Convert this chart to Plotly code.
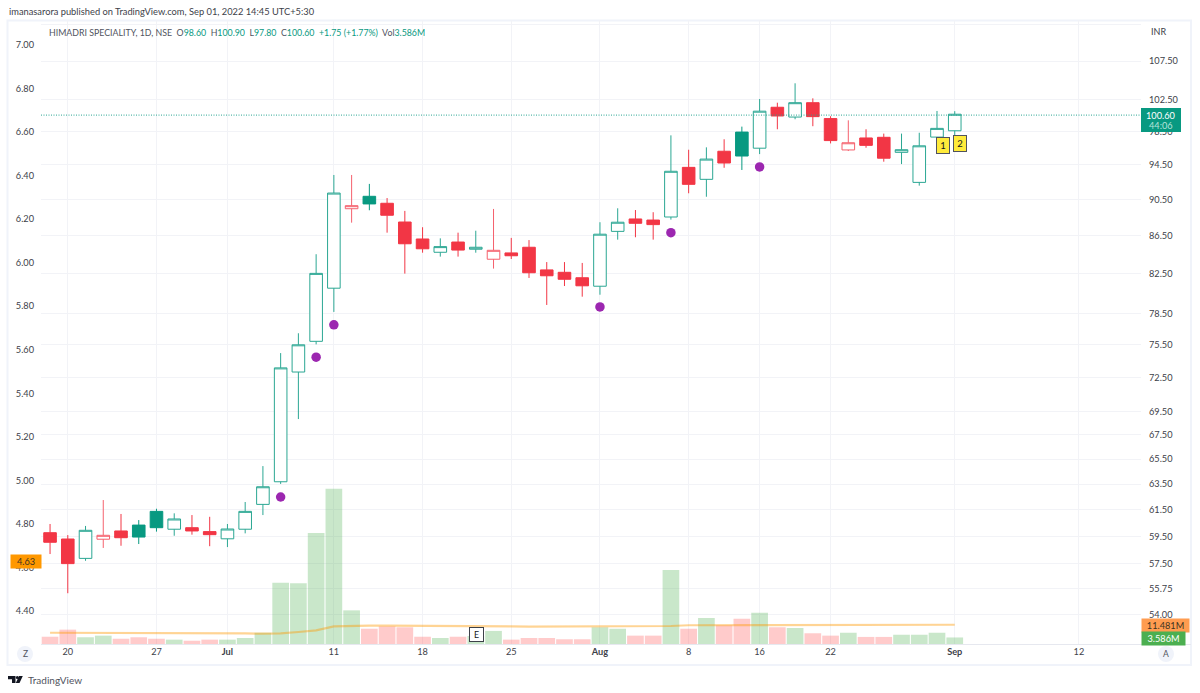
import math
import plotly.graph_objects as go

dates = ["2022-06-17","2022-06-20","2022-06-21","2022-06-22","2022-06-23","2022-06-24","2022-06-27","2022-06-28","2022-06-29","2022-06-30",
         "2022-07-01","2022-07-04","2022-07-05","2022-07-06","2022-07-07","2022-07-08","2022-07-11","2022-07-12","2022-07-13","2022-07-14",
         "2022-07-15","2022-07-18","2022-07-19","2022-07-20","2022-07-21","2022-07-22","2022-07-25","2022-07-26","2022-07-27","2022-07-28",
         "2022-07-29","2022-08-01","2022-08-02","2022-08-03","2022-08-04","2022-08-05","2022-08-08","2022-08-10","2022-08-11","2022-08-12",
         "2022-08-16","2022-08-17","2022-08-18","2022-08-19","2022-08-22","2022-08-23","2022-08-24","2022-08-25","2022-08-26","2022-08-29",
         "2022-08-30","2022-09-01"]
future_dates = ["2022-09-02","2022-09-05","2022-09-06","2022-09-07","2022-09-08","2022-09-09","2022-09-12"]

opens = [4.760,4.731,4.642,4.730,4.768,4.795,4.858,4.776,4.783,4.765,
         4.732,4.776,4.890,4.994,5.498,5.639,5.883,6.248,6.305,6.273,
         6.187,6.109,6.048,6.095,6.062,6.016,6.045,6.071,5.967,5.956,
         5.931,5.892,6.144,6.201,6.196,6.210,6.438,6.383,6.512,6.600,
         6.526,6.714,6.669,6.735,6.662,6.518,6.573,6.576,6.507,6.369,
         6.577,6.606]
highs = [4.800,4.749,4.791,4.910,4.846,4.818,4.870,4.849,4.841,4.833,
         4.800,4.901,5.066,5.585,5.676,6.039,6.403,6.403,6.362,6.297,
         6.238,6.163,6.112,6.138,6.147,6.247,6.114,6.104,6.003,6.003,
         5.999,6.186,6.250,6.242,6.232,6.585,6.519,6.530,6.567,6.625,
         6.752,6.735,6.824,6.755,6.673,6.654,6.613,6.593,6.593,6.597,
         6.697,6.696]
lows = [4.662,4.482,4.631,4.690,4.700,4.708,4.765,4.746,4.751,4.698,
        4.694,4.757,4.841,4.984,5.282,5.625,5.774,6.184,6.241,6.138,
        5.950,6.046,6.028,6.028,6.046,5.973,6.017,5.930,5.806,5.893,
        5.844,5.853,6.106,6.117,6.106,6.198,6.319,6.303,6.436,6.426,
        6.499,6.613,6.659,6.627,6.548,6.513,6.528,6.464,6.453,6.354,
        6.571,6.582]
closes = [4.716,4.618,4.771,4.748,4.737,4.740,4.783,4.823,4.768,4.751,
          4.777,4.858,4.971,5.517,5.623,5.951,6.320,6.262,6.270,6.218,
          6.087,6.064,6.074,6.058,6.071,6.057,6.032,5.954,5.940,5.924,
          5.894,6.131,6.186,6.181,6.175,6.420,6.360,6.476,6.458,6.490,
          6.696,6.674,6.735,6.671,6.561,6.551,6.539,6.480,6.519,6.537,
          6.617,6.682]
volume_m = [4.0,7.9,3.7,4.6,2.9,3.7,2.9,2.4,1.8,2.4,
            2.4,3.3,6.2,33.7,33.4,61.0,85.4,18.5,8.4,9.7,
            9.2,4.0,3.3,4.0,4.4,7.2,2.4,3.3,3.3,2.6,
            2.6,9.2,8.4,4.6,4.6,40.7,8.4,14.3,10.3,13.9,
            17.2,9.2,8.8,5.9,4.6,6.2,3.9,3.9,5.1,5.1,
            6.2,3.586]
volume_ma_m = [6.2,6.2,6.2,6.2,6.2,6.1,6.1,6.0,6.0,5.9,
               5.9,5.8,5.7,5.8,6.6,7.5,9.7,10.1,10.1,10.1,
               10.1,10.0,10.0,9.9,9.9,9.8,9.7,9.6,9.6,9.6,
               9.5,9.5,9.5,9.5,9.5,9.9,10.3,10.3,10.4,10.5,
               10.6,10.6,10.6,10.6,10.6,10.6,10.6,10.6,10.6,10.6,
               10.6,10.6]
signal_dates = ["2022-07-06","2022-07-08","2022-07-11","2022-08-01","2022-08-05","2022-08-16"]
signal_values = [4.924,5.566,5.715,5.797,6.138,6.440]

left_ticks = [7.00,6.80,6.60,6.40,6.20,6.00,5.80,5.60,5.40,5.20,5.00,4.80,4.60,4.40]
right_ticks = [112.5,107.5,102.5,98.5,94.5,90.5,86.5,82.5,78.5,75.5,72.5,69.5,67.5,65.5,63.5,61.5,59.5,57.5,55.75,54.0]
x_tick_dates = ["2022-06-20","2022-06-27","2022-07-01","2022-07-11","2022-07-18","2022-07-25","2022-08-01","2022-08-08","2022-08-16","2022-08-22","2022-09-01","2022-09-12"]
x_tick_labels = ["20","27","<b>Jul</b>","11","18","25","<b>Aug</b>","8","16","22","<b>Sep</b>","12"]

GREEN = "#089981"
RED = "#F23645"
HOLLOW_GREEN = "#2ba793"
HOLLOW_RED = "#f5616d"
FONT = "Lato, 'Open Sans', sans-serif"
TXT = "#3d4149"
TICK = 9.2
W, H = 1200, 693
L, R, T, B = 41, 1141, 20, 644


def px(x):
    return (x - L) / (R - L)


def py(y):
    return (B - y) / (B - T)


fig = go.Figure()

# invisible trace that keeps the right-hand log price scale alive
fig.add_trace(go.Scatter(x=[dates[0]] * len(right_ticks), y=right_ticks, yaxis="y", mode="lines",
                         line=dict(width=0), hoverinfo="skip", showlegend=False))

vol_colors = ["rgba(76,175,80,0.30)" if c >= o else "rgba(255,82,82,0.30)" for o, c in zip(opens, closes)]
fig.add_trace(go.Bar(x=dates, y=volume_m, yaxis="y2", marker=dict(color=vol_colors, line=dict(width=0)), showlegend=False))
fig.add_trace(go.Scatter(x=dates, y=volume_ma_m, yaxis="y2", mode="lines",
                         line=dict(color="rgba(255,152,0,0.42)", width=2.2), showlegend=False))


def is_green(i):
    return i > 0 and closes[i] >= closes[i - 1]


for want_green, col, hollow in ((True, GREEN, HOLLOW_GREEN), (False, RED, HOLLOW_RED)):
    idx = [i for i in range(len(dates)) if is_green(i) == want_green]
    fig.add_trace(go.Candlestick(
        x=[dates[i] for i in idx],
        open=[opens[i] for i in idx], high=[highs[i] for i in idx],
        low=[lows[i] for i in idx], close=[closes[i] for i in idx],
        yaxis="y3", whiskerwidth=0,
        increasing=dict(line=dict(color=hollow, width=1), fillcolor="white"),
        decreasing=dict(line=dict(color=col, width=1), fillcolor=col),
        showlegend=False))

fig.add_trace(go.Scatter(x=signal_dates, y=signal_values, yaxis="y3", mode="markers",
                         marker=dict(color="#9c27b0", size=9.5, line=dict(width=0)), showlegend=False))

shapes = [
    dict(type="rect", xref="paper", yref="paper", x0=px(7.5), x1=px(1191), y0=py(665), y1=py(20.5),
         line=dict(color="#f0f3fa", width=2), layer="below"),
    dict(type="line", xref="paper", yref="paper", x0=px(L), x1=px(1191), y0=py(B + 0.5), y1=py(B + 0.5),
         line=dict(color="#e6e8ef", width=1), layer="below"),
    dict(type="line", xref="paper", yref="y3", x0=0, x1=1, y0=closes[-1] - 0.004, y1=closes[-1] - 0.004,
         line=dict(color=HOLLOW_GREEN, width=1, dash="1px,1.5px")),
    dict(type="rect", xref="paper", yref="paper", x0=px(1141), x1=px(1181), y0=py(132), y1=py(108),
         fillcolor=GREEN, line=dict(width=0)),
    dict(type="circle", xref="paper", yref="paper", x0=px(17), x1=px(33), y0=py(662), y1=py(646),
         fillcolor="#f0f3fa", line=dict(width=0)),
    dict(type="circle", xref="paper", yref="paper", x0=px(1158), x1=px(1174), y0=py(662), y1=py(646),
         fillcolor="#f0f3fa", line=dict(width=0)),
    # TradingView mark
    dict(type="path", xref="paper", yref="paper", fillcolor="#131722", line=dict(width=0),
         path=f"M{px(8)},{py(676)} L{px(15.5)},{py(676)} L{px(15.5)},{py(683)} L{px(12)},{py(683)} L{px(12)},{py(679.3)} L{px(8)},{py(679.3)} Z"),
    dict(type="circle", xref="paper", yref="paper", x0=px(15.8), x1=px(18.8), y0=py(679), y1=py(676),
         fillcolor="#131722", line=dict(width=0)),
    dict(type="path", xref="paper", yref="paper", fillcolor="#131722", line=dict(width=0),
         path=f"M{px(19)},{py(676)} L{px(22.8)},{py(676)} L{px(19.5)},{py(683)} L{px(15.8)},{py(683)} Z"),
]


def note(text, x, y, size=TICK, color=TXT, xanchor="left", yanchor="middle", xref="paper", yref="paper", **kw):
    return dict(text=text, x=x, y=y, xref=xref, yref=yref, showarrow=False, xanchor=xanchor, yanchor=yanchor,
                font=dict(family=FONT, size=size, color=color), **kw)


def c(t):
    return f"<span style='color:{GREEN}'>{t}</span>"


header = ("HIMADRI SPECIALITY, 1D, NSE &nbsp;O" + c("98.60") + " &nbsp;H" + c("100.90") + " &nbsp;L" + c("97.80") + " &nbsp;C" + c("100.60")
          + " &nbsp;" + c("+1.75 (+1.77%)") + " &nbsp;Vol" + c("3.586M"))

annotations = [
    note("imanasarora published on TradingView.com, Sep 01, 2022 14:45 UTC+5:30", px(7), py(11), size=9.3, color="#3d4149"),
    note(header, px(47), py(32), size=8.8, color="#50535e"),
    note("INR", px(1149), py(31), size=9),
    note("TradingView", px(25.5), py(679.5), size=10, color="#50535e"),
    note("Z", px(25), py(654), size=8.5, xanchor="center", color="#50535e"),
    note("A", px(1166), py(654), size=8.5, xanchor="center", color="#50535e"),
    note("4.63", px(41.5), 4.63, size=9.2, color="#3d3320", xanchor="right", yref="y3",
         bgcolor="#ff9800", width=30, height=13, borderpad=0, align="center"),
    note("100.60", px(1161), py(115), size=9.2, color="white", xanchor="center"),
    note("44:06", px(1161), py(126), size=9.2, color="#b5e3da", xanchor="center"),
    note("11.481M", px(1141), py(625.5), size=9.2, color="#3d3320", bgcolor="#ff9c50", width=47, height=13, borderpad=0, align="center"),
    note("3.586M", px(1141), py(638.5), size=9.2, color="white", bgcolor="#4caf50", width=43, height=13, borderpad=0, align="center"),
    note("1", "2022-08-30", 6.538, size=9.5, color="#131722", xanchor="center", xref="x", yref="y3", bgcolor="#ffeb3b",
         bordercolor="#50535e", borderwidth=1, borderpad=1, width=10, height=13, xshift=5.5),
    note("2", "2022-09-01", 6.547, size=9.5, color="#131722", xanchor="center", xref="x", yref="y3", bgcolor="#ffeb3b",
         bordercolor="#50535e", borderwidth=1, borderpad=1, width=10, height=13, xshift=5),
    note("E", "2022-07-21", 5.3, size=8.8, color="#131722", xanchor="center", xref="x", yref="y2", bgcolor="white",
         bordercolor="#3d4149", borderwidth=1, borderpad=1, width=11, height=11, xshift=1),
]

grid = "#f2f3f7"
fig.update_layout(
    width=W, height=H, margin=dict(l=L, r=W - R, t=T, b=H - B),
    paper_bgcolor="white", plot_bgcolor="white", showlegend=False,
    boxmode="overlay", bargap=0.06, boxgap=0.29, boxgroupgap=0, hovermode=False, dragmode=False,
    shapes=shapes, annotations=annotations,
    font=dict(family=FONT, size=TICK, color=TXT),
    xaxis=dict(type="category", categoryorder="array", categoryarray=dates + future_dates,
               range=[-0.51, 61.5], tickmode="array", tickvals=x_tick_dates, ticktext=x_tick_labels,
               showgrid=True, gridcolor=grid, gridwidth=1, showline=False, ticks="", rangeslider=dict(visible=False),
               tickfont=dict(size=TICK, color=TXT), ticklabelstandoff=1),
    yaxis=dict(type="log", side="right", range=[math.log10(52.04), math.log10(113.13)],
               tickmode="array", tickvals=right_ticks,
               ticktext=["" if v == 112.5 else f"{v:.2f}" for v in right_ticks],
               showgrid=True, gridcolor=grid, gridwidth=1, zeroline=False, showline=False, ticks="",
               tickfont=dict(size=TICK, color=TXT), ticklabelstandoff=7),
    yaxis2=dict(overlaying="y", range=[0, 343.2], visible=False, fixedrange=True),
    yaxis3=dict(overlaying="y", side="left", range=[4.2488, 7.1148],
                tickmode="array", tickvals=left_ticks, ticktext=[f"{v:.2f}" for v in left_ticks],
                showgrid=False, zeroline=False, showline=False, ticks="",
                tickfont=dict(size=TICK, color=TXT), ticklabelstandoff=6),
)

fig.write_html("out.html", config=dict(displayModeBar=False), post_script="document.body.style.margin='0';")
